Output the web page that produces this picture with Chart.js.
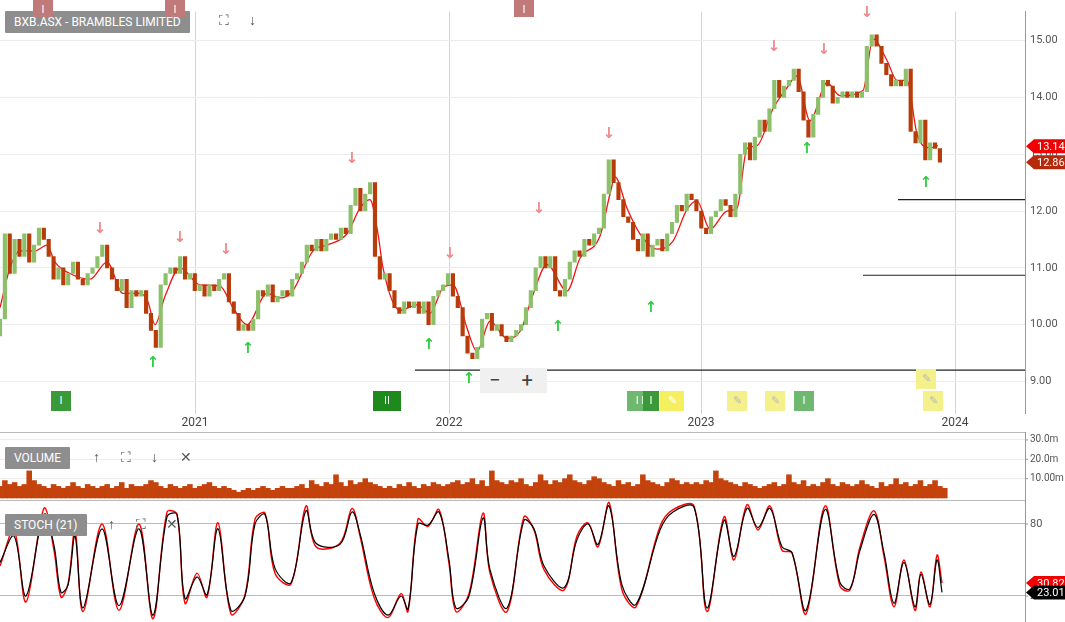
<!DOCTYPE html>
<html><head><meta charset="utf-8">
<script src="https://cdn.jsdelivr.net/npm/chart.js@4.4.0/dist/chart.umd.min.js"></script>
<style>
body{margin:0;background:#fff;font-family:Roboto,"Liberation Sans",sans-serif;overflow:hidden}
.c{position:absolute;left:0}
.tag{position:absolute;background:#8e8e8e;color:#fff;font-size:12px;padding:4px 9px;border-radius:1px}
.ico{position:absolute;color:#555;font-size:14px}
.ib{position:absolute;width:20px;height:20px;color:#fff;font-size:11px;text-align:center;line-height:20px}
.sep{position:absolute;left:0;width:1025px;height:1px;background:#bbb}
</style></head><body>
<canvas id="main" class="c" style="top:0" width="1065" height="432"></canvas>
<canvas id="vol" class="c" style="top:432px" width="1065" height="68"></canvas>
<canvas id="sto" class="c" style="top:500px" width="1065" height="122"></canvas>
<div class="sep" style="top:432px"></div><div class="sep" style="top:500px"></div>
<div class="tag" style="left:5px;top:11px">BXB.ASX - BRAMBLES LIMITED</div>
<div class="ico" style="left:219px;top:12px">⛶</div><div class="ico" style="left:249px;top:12px">↓</div>
<div class="tag" style="left:5px;top:447px">VOLUME</div>
<div class="ico" style="left:93px;top:449px">↑</div><div class="ico" style="left:121px;top:449px">⛶</div><div class="ico" style="left:151px;top:449px">↓</div><div class="ico" style="left:180px;top:449px">✕</div>
<div class="tag" style="left:5px;top:514px">STOCH (21)</div>
<div class="ico" style="left:108px;top:516px">↑</div><div class="ico" style="left:136px;top:516px">⛶</div><div class="ico" style="left:166px;top:516px">✕</div>
<div class="ib" style="left:33px;top:0;height:17px;background:#c07a7a">I</div>
<div class="ib" style="left:165px;top:0;height:17px;background:#c07a7a">I</div>
<div class="ib" style="left:514px;top:0;height:17px;background:#c07a7a">I</div>
<div class="ib" style="left:51px;top:391px;background:#3a9a3a">I</div>
<div class="ib" style="left:373px;top:391px;width:28px;background:#1e8a1e">II</div>
<div class="ib" style="left:627px;top:391px;width:26px;background:#6fb86f">I I</div>
<div class="ib" style="left:643px;top:391px;width:16px;background:#3a9a3a">I</div>
<div class="ib" style="left:660px;top:391px;width:24px;background:#f4f060">✎</div>
<div class="ib" style="left:727px;top:391px;background:#f4f08a;color:#bbb">✎</div>
<div class="ib" style="left:765px;top:391px;background:#f4f08a;color:#bbb">✎</div>
<div class="ib" style="left:794px;top:391px;background:#6fb86f">I</div>
<div class="ib" style="left:916px;top:369px;background:#f4f08a;color:#bbb">✎</div>
<div class="ib" style="left:923px;top:391px;background:#f4f08a;color:#bbb">✎</div>
<div style="position:absolute;left:480px;top:368px;width:67px;height:25px;background:#f0f0f0;font-size:20px;color:#444;line-height:24px"><span style="margin-left:9px">−</span><span style="margin-left:21px">+</span></div>
<script>
const yearTicks=[195,449,701,955];
const yearLabels=['2021','2022','2023','2024'];
const weekDays=4.87;
const closes=[10.1,11.6,10.9,11.5,11.2,11.6,11.1,11.4,11.7,11.5,11.2,10.8,11.0,10.7,10.9,11.1,10.8,10.7,10.9,11.0,
11.2,11.4,11.0,10.8,10.6,10.8,10.3,10.6,10.5,10.6,10.2,9.9,9.6,10.7,10.9,11.0,10.9,11.2,10.8,10.9,
10.6,10.7,10.5,10.7,10.6,10.8,10.9,10.4,10.2,9.9,10.0,9.9,10.1,10.6,10.5,10.7,10.4,10.5,10.6,10.5,
10.8,10.9,11.1,11.4,11.3,11.5,11.3,11.5,11.6,11.5,11.7,11.6,12.1,12.4,12.0,12.3,12.5,11.2,10.8,10.9,
10.6,10.3,10.2,10.4,10.3,10.4,10.2,10.4,10.0,10.5,10.6,10.7,10.9,10.5,10.3,9.8,9.5,9.4,9.6,10.1,
10.2,9.9,10.0,9.8,9.7,9.8,9.9,10.0,10.3,10.6,11.0,11.2,11.0,11.2,10.6,10.5,10.8,11.1,11.3,11.2,
11.5,11.4,11.6,11.7,12.3,12.9,12.5,12.2,11.9,11.8,11.5,11.3,11.6,11.2,11.4,11.5,11.3,11.6,11.8,12.1,
12.0,12.3,12.2,12.0,11.7,11.6,11.9,12.0,12.2,12.1,11.9,12.3,13.0,13.2,12.9,13.3,13.6,13.4,13.8,14.3,
14.0,14.2,14.3,14.5,14.1,13.6,13.3,13.7,14.0,14.3,14.2,13.9,14.0,14.1,14.0,14.1,14.0,14.1,14.9,15.1,
14.9,14.6,14.4,14.2,14.3,14.2,14.5,13.4,13.2,13.6,12.9,13.2,13.1,12.86];
const volumes=[6,9,7,8,6,7,14,9,7,6,5,7,6,5,6,8,6,5,7,6,5,6,7,5,6,8,5,7,6,6,7,9,8,6,5,7,6,5,6,7,
5,6,7,8,6,5,6,5,4,3,4,5,4,5,6,5,4,5,6,5,5,6,7,5,9,7,6,8,7,12,8,6,9,7,8,10,8,7,6,5,
6,5,7,6,8,6,5,7,6,8,7,6,7,8,9,7,8,10,7,9,6,14,9,8,7,9,8,10,7,6,8,12,9,7,9,8,10,12,9,8,
7,9,11,10,8,7,6,9,7,8,6,7,12,9,8,7,6,8,10,9,7,8,7,8,7,9,8,14,10,9,8,7,6,8,7,6,
5,6,7,8,6,7,12,8,7,9,6,7,6,8,10,7,6,8,7,6,7,9,7,6,5,8,6,7,10,7,8,6,7,9,6,7,9,6,5];
const maDay=[0,10,20,35,47,55,70,90,107,123,140,148,155,165,180,200,220,233,247,267,280,293,313,327,347,360,370,378,383,400,417,430,443,453,467,477,490,507,520,533,547,567,580,600,610,615,627,640,657,673,687,697,710,727,737,747,757,773,787,797,810,827,840,863,873,887,897,907,917,930,938];
const maVal=[10.3,11.0,11.3,11.3,11.4,11.1,10.9,10.8,11.1,10.55,10.55,10.4,10.0,10.5,11.0,10.7,10.68,10.3,10.0,10.55,10.47,10.6,11.3,11.4,11.6,12.05,12.2,11.6,11.0,10.25,10.35,10.2,10.65,10.7,9.94,9.53,10.06,9.76,9.88,10.53,11.06,10.59,11.17,11.56,12.3,12.6,12.05,11.6,11.33,11.47,12.03,12.18,11.68,12.0,12.05,13.1,13.15,13.8,14.17,14.38,13.59,14.26,14.03,14.12,15.03,14.65,14.3,14.3,13.36,13.11,13.15];
const downDay=[100,180,226,352,450,539,609,774,824,867];
const downPrice=[11.68,11.52,11.31,12.92,11.24,12.04,13.36,14.88,14.84,15.48];
const upDay=[153,248,429,469,558,651,807,926];
const upPrice=[9.32,9.57,9.64,9.04,9.95,10.29,13.09,12.49];
const supportFrom=[415,863,898], supportPrice=[9.2,10.87,12.2];
const lastTags=[{v:13.14,c:'#f00000'},{v:12.86,c:'#b52a0a'}];
const volTicks=[10,20,30], volLabels=['10.00m','20.0m','30.0m'];
const stochTicks=[20,80], stochLabels=['20','80'];
const stochDay=[0,14,26,44,54,61,68,75,83,102,119,139,153,167,177,185,197,207,218,231,245,255,265,275,291,306,316,340,352,360,374,388,401,408,418,428,439,449,456,469,483,490,507,524,534,544,564,577,588,598,609,622,636,660,673,694,707,724,734,747,758,770,782,792,806,825,840,850,860,874,884,894,904,915,921,930,937,942];
const stochK=[45,75,15,93,58,19,30,75,7,80,8,80,1,90,88,14,39,19,81,5,21,84,89,39,30,95,61,64,93,70,19,2,22,7,84,78,92,47,7,22,89,39,7,86,75,42,25,70,81,61,98,25,11,78,92,95,7,86,50,96,75,95,58,56,5,95,28,25,61,91,53,11,50,8,40,11,54,30.8];
const stochD=[48,70,20,88,62,23,29,70,10,76,12,76,4,86,88,18,36,21,76,8,20,80,88,43,31,91,64,63,90,72,23,4,20,9,80,79,90,50,10,20,85,42,10,83,76,45,27,67,80,63,95,29,13,75,90,94,10,83,53,93,77,93,61,56,8,92,31,26,58,88,56,14,48,11,38,13,50,23.0];
const stochTags=[{v:30.82,c:'#f00000'},{v:23.01,c:'#000'}];

const F='Roboto, "Liberation Sans", sans-serif';
function fixW(s){s.width=40;}
const xScale={type:'linear',min:0,max:1025,offset:false,
  afterBuildTicks:s=>{s.ticks=yearTicks.map(v=>({value:v}));},
  ticks:{callback:v=>yearLabels[yearTicks.indexOf(v)]||'',color:'#444',font:{family:F,size:12},maxRotation:0,padding:2},
  grid:{color:'#d4d4d4',drawTicks:false,offset:false},border:{display:false}};
function tagPlugin(id,tags,fmt){return {id,afterDraw(ch){const c=ch.ctx,y=ch.scales.y,x0=ch.chartArea.right+1;
  tags.forEach(t=>{const py=y.getPixelForValue(t.v);c.fillStyle=t.c;c.beginPath();c.moveTo(x0,py);c.lineTo(x0+8,py-7);c.lineTo(x0+48,py-7);c.lineTo(x0+48,py+7);c.lineTo(x0+8,py+7);c.closePath();c.fill();
  c.fillStyle='#fff';c.font='11px '+F;c.textAlign='left';c.textBaseline='middle';c.fillText(fmt(t.v),x0+11,py+1);});}};}
function labelPlugin(id,ticks,labels,size){return {id,afterDraw(ch){const c=ch.ctx,y=ch.scales.y,x0=ch.chartArea.right;
  c.font=size+'px '+F;c.fillStyle='#555';c.textAlign='left';c.textBaseline='middle';c.strokeStyle='#999';
  ticks.forEach((v,i)=>{const py=y.getPixelForValue(v);c.beginPath();c.moveTo(x0,py);c.lineTo(x0+3,py);c.stroke();c.fillText(labels[i],x0+5,py);});}};}
const arrowPlugin={id:'arr',afterDatasetsDraw(ch){const c=ch.ctx,x=ch.scales.x,y=ch.scales.y;c.font='bold 15px "DejaVu Sans"';c.textAlign='center';c.textBaseline='middle';
  c.fillStyle='#f08a8a';downDay.forEach((d,i)=>c.fillText('↓',x.getPixelForValue(d),y.getPixelForValue(downPrice[i])));
  c.fillStyle='#2ecc40';upDay.forEach((d,i)=>c.fillText('↑',x.getPixelForValue(d),y.getPixelForValue(upPrice[i])));}};
const base={responsive:false,animation:false,events:[],plugins:{legend:{display:false},tooltip:{enabled:false}},layout:{padding:0}};

const bars=closes.map((c,i)=>({x:i*weekDays,y:[i?closes[i-1]:c-0.3,c]}));
const barCols=closes.map((c,i)=>(i&&c<closes[i-1])?'#b83c0a':'#8cc06a');
const supportSets=supportFrom.map((f,i)=>({type:'line',data:[{x:f,y:supportPrice[i]},{x:1025,y:supportPrice[i]}],borderColor:'#222',borderWidth:1.2,pointRadius:0}));
new Chart(document.getElementById('main'),{type:'bar',
 data:{datasets:[{data:bars,backgroundColor:barCols,barThickness:3.5,grouped:false},
  {type:'line',data:maDay.map((d,i)=>({x:d,y:maVal[i]})),borderColor:'#f01414',borderWidth:1.3,pointRadius:0,cubicInterpolationMode:'monotone'},...supportSets]},
 options:{...base,
  scales:{x:xScale,y:{position:'right',min:8.435,max:15.51,afterFit:fixW,
   afterBuildTicks:s=>{s.ticks=[9,10,11,12,13,14,15].map(v=>({value:v}));},
   ticks:{callback:v=>v.toFixed(2),color:'#555',font:{family:F,size:11},padding:5},
   grid:{color:'#ececec',drawTicks:false},border:{display:true,color:'#999'}}}},
 plugins:[arrowPlugin,tagPlugin('t1',lastTags,v=>v.toFixed(2))]});

const xHidden={type:'linear',min:0,max:1025,offset:false,display:false};
new Chart(document.getElementById('vol'),{type:'bar',
 data:{datasets:[{data:volumes.map((v,i)=>({x:i*weekDays,y:v})),backgroundColor:'#c4420c',barThickness:4.9}]},
 options:{...base,layout:{padding:{right:40}},
  scales:{x:xHidden,y:{position:'right',min:-1.03,max:34.1,
   afterBuildTicks:s=>{s.ticks=volTicks.map(v=>({value:v}));},
   ticks:{display:false},
   grid:{color:'#ececec',drawTicks:false},border:{display:true,color:'#999'}}}},
 plugins:[labelPlugin('l1',volTicks,volLabels,10)]});

new Chart(document.getElementById('sto'),{type:'line',
 data:{datasets:[{data:stochDay.map((d,i)=>({x:d,y:stochD[i]})),borderColor:'#000',borderWidth:1.2,pointRadius:0,tension:0.35},
  {data:stochDay.map((d,i)=>({x:d,y:stochK[i]})),borderColor:'#f00',borderWidth:1.4,pointRadius:0,tension:0.35}]},
 options:{...base,layout:{padding:{right:40}},
  scales:{x:xHidden,y:{position:'right',min:-1.67,max:100,
   afterBuildTicks:s=>{s.ticks=stochTicks.map(v=>({value:v}));},
   ticks:{display:false},
   grid:{color:'#bbb',drawTicks:false},border:{display:true,color:'#999'}}}},
 plugins:[labelPlugin('l2',stochTicks,stochLabels,11),tagPlugin('t2',stochTags,v=>v.toFixed(2))]});
</script></body></html>
